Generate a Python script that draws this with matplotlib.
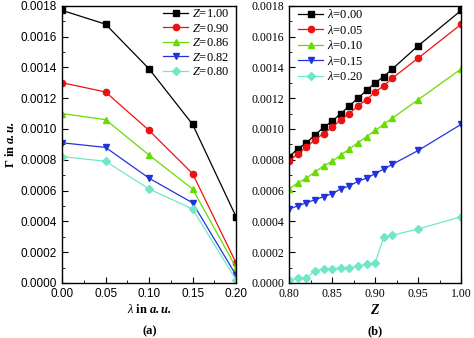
import numpy as np
import matplotlib.pyplot as plt
from matplotlib.ticker import MultipleLocator, FormatStrFormatter

# panel (a): Gamma vs lambda for several Z
lam = [0.00, 0.05, 0.10, 0.15, 0.20]
z_labels = ["1.00", "0.90", "0.86", "0.82", "0.80"]
g_z100 = [0.00177, 0.00168, 0.00139, 0.00103, 0.00043]
g_z090 = [0.00130, 0.00124, 0.00099, 0.00071, 0.00013]
g_z086 = [0.00110, 0.00106, 0.00083, 0.00061, 0.00010]
g_z082 = [0.00091, 0.00088, 0.00068, 0.00052, 0.00005]
g_z080 = [0.00082, 0.00079, 0.00061, 0.00048, 0.00002]

# panel (b): Gamma vs Z for several lambda
zz = [0.80, 0.81, 0.82, 0.83, 0.84, 0.85, 0.86, 0.87, 0.88, 0.89,
      0.90, 0.91, 0.92, 0.95, 1.00]
lam_labels = ["0.00", "0.05", "0.10", "0.15", "0.20"]
g_l000 = [0.00082, 0.00087, 0.00091, 0.00096, 0.00101, 0.00105, 0.00110,
          0.00115, 0.00120, 0.00125, 0.00130, 0.00134, 0.00139, 0.00154, 0.00177]
g_l005 = [0.00079, 0.00084, 0.00088, 0.00093, 0.00097, 0.00101, 0.00106,
          0.00110, 0.00115, 0.00119, 0.00124, 0.00128, 0.00133, 0.00146, 0.00168]
g_l010 = [0.00061, 0.00065, 0.00068, 0.00072, 0.00076, 0.00079, 0.00083,
          0.00087, 0.00091, 0.00095, 0.00099, 0.00103, 0.00107, 0.00119, 0.00139]
g_l015 = [0.00048, 0.00050, 0.00052, 0.00054, 0.00056, 0.00058, 0.00061,
          0.00063, 0.00066, 0.00068, 0.00071, 0.00074, 0.00077, 0.00086, 0.00103]
g_l020 = [0.00002, 0.00003, 0.00003, 0.00008, 0.00009, 0.00009, 0.00010,
          0.00010, 0.00011, 0.00012, 0.00013, 0.00030, 0.00031, 0.00035, 0.00043]

colors = ["black", "#ee1111", "#66dd00", "#2233dd", "#70e8c8"]
markers = ["s", "o", "^", "v", "D"]
msizes = [4, 4.5, 5, 5, 4]

serif = "Liberation Serif"
sans = "Liberation Sans"
plt.rcParams["mathtext.fontset"] = "custom"
plt.rcParams["mathtext.it"] = "Liberation Serif:italic"
plt.rcParams["mathtext.rm"] = "Liberation Serif:bold"
plt.rcParams["mathtext.bf"] = "Liberation Serif:bold:italic"

fig = plt.figure(figsize=(4.74, 3.38), dpi=100)
ax1 = fig.add_axes([0.131, 0.163, 0.367, 0.820])
ax2 = fig.add_axes([0.610, 0.163, 0.363, 0.820])

for ys, lab, c, m, ms in zip([g_z100, g_z090, g_z086, g_z082, g_z080],
                             z_labels, colors, markers, msizes):
    ax1.plot(lam, ys, color=c, marker=m, ms=ms, lw=0.9,
             label=r"$Z$=" + lab)

for ys, lab, c, m, ms in zip([g_l000, g_l005, g_l010, g_l015, g_l020],
                             lam_labels, colors, markers, msizes):
    ax2.plot(zz, ys, color=c, marker=m, ms=ms, lw=0.9,
             label=r"$\lambda$=" + lab)

for ax, tfont in [(ax1, sans), (ax2, serif)]:
    ax.set_ylim(0, 0.0018)
    ax.yaxis.set_major_locator(MultipleLocator(0.0002))
    ax.yaxis.set_minor_locator(MultipleLocator(0.0001))
    ax.xaxis.set_major_locator(MultipleLocator(0.05))
    ax.xaxis.set_minor_locator(MultipleLocator(0.025))
    ax.yaxis.set_major_formatter(FormatStrFormatter("%.4f"))
    ax.xaxis.set_major_formatter(FormatStrFormatter("%.2f"))
    ax.tick_params(which="both", direction="in", top=False, right=False,
                   labelsize=8.5, labelfontfamily=tfont)
    ax.tick_params(which="major", length=4)
    ax.tick_params(which="minor", length=2)
    for sp in ax.spines.values():
        sp.set_linewidth(1)

ax1.set_xlim(0, 0.20)
ax2.set_xlim(0.80, 1.00)

ax1.set_xlabel(r"$\lambda$ in $\mathbf{a.u.}$", family=serif,
               fontweight="bold", fontsize=9, labelpad=2)
ax1.set_ylabel(r"$\mathrm{\Gamma}$ in $\mathbf{a.u.}$", family=serif,
               fontweight="bold", fontsize=9, labelpad=3)
ax2.set_xlabel(r"$\mathbf{Z}$", family=serif, fontsize=10, labelpad=2)

fig.text(0.315, 0.012, "(a)", family=serif, fontweight="bold", fontsize=9,
         ha="center")
fig.text(0.792, 0.012, "(b)", family=serif, fontweight="bold", fontsize=9,
         ha="center")

leg_kw = dict(frameon=False, handlelength=2.0, labelspacing=0.2,
              borderpad=0.2, borderaxespad=0.0, handletextpad=0.3,
              prop={"family": serif, "size": 9})
ax1.legend(loc="upper left", bbox_to_anchor=(0.566, 1.0), **leg_kw)
ax2.legend(loc="upper left", bbox_to_anchor=(0.038, 1.0), **leg_kw)

fig.savefig("out.png", dpi=100)
